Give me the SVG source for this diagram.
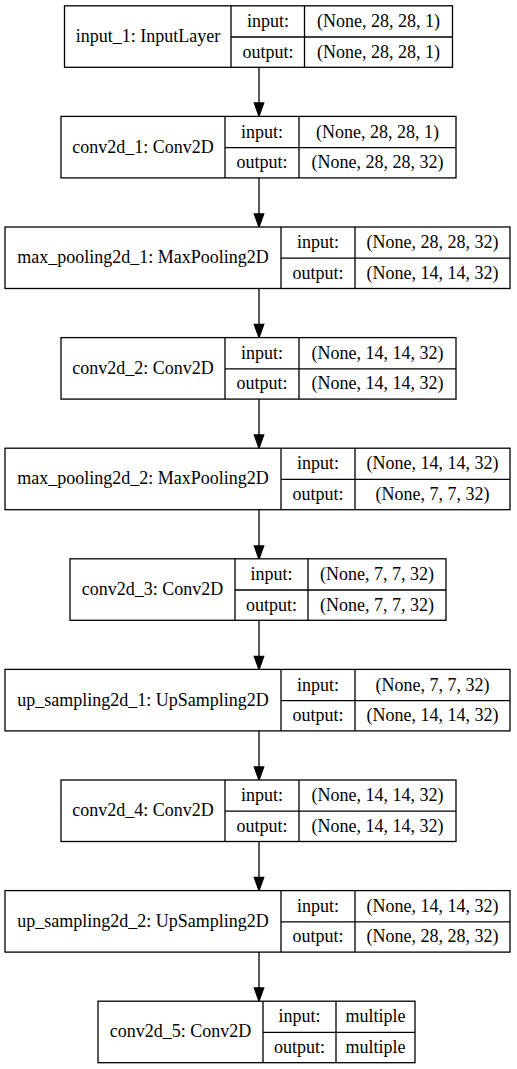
<svg xmlns="http://www.w3.org/2000/svg" width="517" height="1069" viewBox="0 0 517 1069">
<defs>
<style>
.b{fill:#fff;stroke:#000;stroke-width:1.3}
.l{stroke:#000;stroke-width:1.3;fill:none}
text{font-family:"Liberation Serif","Times New Roman",serif;font-size:18px;fill:#000;text-anchor:middle}
.e{stroke:#000;stroke-width:1.3;fill:none}
.h{fill:#000;stroke:#000;stroke-width:1.3}
</style>
</defs>
<rect width="517" height="1069" fill="#fff"/>
<g id="connectors">
<path class="e" d="M259,67.3V103.5"/><polygon class="h" points="254.3,103 263.7,103 259,116"/>
<path class="e" d="M259,177.9V214"/><polygon class="h" points="254.3,214 263.7,214 259,227"/>
<path class="e" d="M259,288.5V324.5"/><polygon class="h" points="254.3,324.5 263.7,324.5 259,337.5"/>
<path class="e" d="M259,399.1V435"/><polygon class="h" points="254.3,435 263.7,435 259,448"/>
<path class="e" d="M259,509.7V546"/><polygon class="h" points="254.3,546 263.7,546 259,559"/>
<path class="e" d="M259,620.3V656.5"/><polygon class="h" points="254.3,656.5 263.7,656.5 259,669.5"/>
<path class="e" d="M259,730.9V767"/><polygon class="h" points="254.3,767 263.7,767 259,780"/>
<path class="e" d="M259,841.5V877.5"/><polygon class="h" points="254.3,877.5 263.7,877.5 259,890.5"/>
<path class="e" d="M259,952.1V988"/><polygon class="h" points="254.3,988 263.7,988 259,1001"/>
</g>
<g id="input_1">
<rect class="b" x="64.5" y="5.8" width="388" height="61.5"/>
<path class="l" d="M231,5.8V67.3M304.5,5.8V67.3M231,37H452.5"/>
<text x="148" y="42">input_1: InputLayer</text>
<text x="268" y="27">input:</text><text x="268" y="57.5">output:</text>
<text x="378.5" y="27">(None, 28, 28, 1)</text><text x="378.5" y="57.5">(None, 28, 28, 1)</text>
</g>
<g id="conv2d_1">
<rect class="b" x="61" y="116.4" width="395" height="61.5"/>
<path class="l" d="M225,116.4V177.9M299,116.4V177.9M225,147.6H456"/>
<text x="143" y="152.6">conv2d_1: Conv2D</text>
<text x="262" y="137.6">input:</text><text x="262" y="168.1">output:</text>
<text x="377.5" y="137.6">(None, 28, 28, 1)</text><text x="377.5" y="168.1">(None, 28, 28, 32)</text>
</g>
<g id="max_pooling2d_1">
<rect class="b" x="5" y="227" width="505" height="61.5"/>
<path class="l" d="M281,227V288.5M355,227V288.5M281,258.2H510"/>
<text x="143" y="263.2">max_pooling2d_1: MaxPooling2D</text>
<text x="318" y="248.2">input:</text><text x="318" y="278.7">output:</text>
<text x="432.5" y="248.2">(None, 28, 28, 32)</text><text x="432.5" y="278.7">(None, 14, 14, 32)</text>
</g>
<g id="conv2d_2">
<rect class="b" x="61" y="337.6" width="395" height="61.5"/>
<path class="l" d="M225,337.6V399.1M299,337.6V399.1M225,368.8H456"/>
<text x="143" y="373.8">conv2d_2: Conv2D</text>
<text x="262" y="358.8">input:</text><text x="262" y="389.3">output:</text>
<text x="377.5" y="358.8">(None, 14, 14, 32)</text><text x="377.5" y="389.3">(None, 14, 14, 32)</text>
</g>
<g id="max_pooling2d_2">
<rect class="b" x="5" y="448.2" width="505" height="61.5"/>
<path class="l" d="M281,448.2V509.7M355,448.2V509.7M281,479.4H510"/>
<text x="143" y="484.4">max_pooling2d_2: MaxPooling2D</text>
<text x="318" y="469.4">input:</text><text x="318" y="499.9">output:</text>
<text x="432.5" y="469.4">(None, 14, 14, 32)</text><text x="432.5" y="499.9">(None, 7, 7, 32)</text>
</g>
<g id="conv2d_3">
<rect class="b" x="70" y="558.8" width="376" height="61.5"/>
<path class="l" d="M235,558.8V620.3M308,558.8V620.3M235,590H446"/>
<text x="152.5" y="595">conv2d_3: Conv2D</text>
<text x="271.5" y="580">input:</text><text x="271.5" y="610.5">output:</text>
<text x="377" y="580">(None, 7, 7, 32)</text><text x="377" y="610.5">(None, 7, 7, 32)</text>
</g>
<g id="up_sampling2d_1">
<rect class="b" x="5" y="669.4" width="505" height="61.5"/>
<path class="l" d="M281,669.4V730.9M355,669.4V730.9M281,700.6H510"/>
<text x="143" y="705.6">up_sampling2d_1: UpSampling2D</text>
<text x="318" y="690.6">input:</text><text x="318" y="721.1">output:</text>
<text x="432.5" y="690.6">(None, 7, 7, 32)</text><text x="432.5" y="721.1">(None, 14, 14, 32)</text>
</g>
<g id="conv2d_4">
<rect class="b" x="61" y="780" width="395" height="61.5"/>
<path class="l" d="M225,780V841.5M299,780V841.5M225,811.2H456"/>
<text x="143" y="816.2">conv2d_4: Conv2D</text>
<text x="262" y="801.2">input:</text><text x="262" y="831.7">output:</text>
<text x="377.5" y="801.2">(None, 14, 14, 32)</text><text x="377.5" y="831.7">(None, 14, 14, 32)</text>
</g>
<g id="up_sampling2d_2">
<rect class="b" x="5" y="890.6" width="505" height="61.5"/>
<path class="l" d="M281,890.6V952.1M355,890.6V952.1M281,921.8H510"/>
<text x="143" y="926.8">up_sampling2d_2: UpSampling2D</text>
<text x="318" y="911.8">input:</text><text x="318" y="942.3">output:</text>
<text x="432.5" y="911.8">(None, 14, 14, 32)</text><text x="432.5" y="942.3">(None, 28, 28, 32)</text>
</g>
<g id="conv2d_5">
<rect class="b" x="98" y="1001.2" width="317" height="61.5"/>
<path class="l" d="M263,1001.2V1062.7M336,1001.2V1062.7M263,1032.4H415"/>
<text x="180.5" y="1037.4">conv2d_5: Conv2D</text>
<text x="299.5" y="1022.4">input:</text><text x="299.5" y="1052.9">output:</text>
<text x="375.5" y="1022.4">multiple</text><text x="375.5" y="1052.9">multiple</text>
</g>
</svg>
